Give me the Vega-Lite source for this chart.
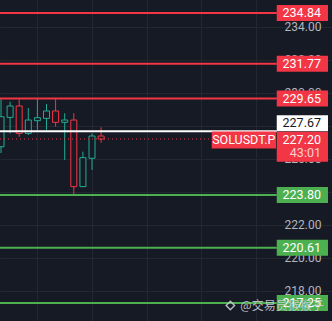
{
  "$schema": "https://vega.github.io/schema/vega-lite/v6.json",
  "width": 332,
  "height": 321,
  "autosize": "none",
  "padding": 0,
  "background": "#161a25",
  "config": {"view": {"stroke": null}, "font": "Roboto"},
  "datasets": {
    "candles": [
      {"i": 0, "open": 226.73, "high": 229.61, "low": 226.35, "close": 228.55},
      {"i": 1, "open": 228.51, "high": 229.46, "low": 227.54, "close": 229.20},
      {"i": 2, "open": 229.20, "high": 229.61, "low": 227.34, "close": 227.54},
      {"i": 3, "open": 227.54, "high": 229.08, "low": 227.44, "close": 228.35},
      {"i": 4, "open": 228.31, "high": 229.66, "low": 227.75, "close": 228.49},
      {"i": 5, "open": 228.45, "high": 229.32, "low": 227.75, "close": 228.90},
      {"i": 6, "open": 228.90, "high": 229.61, "low": 227.95, "close": 228.21},
      {"i": 7, "open": 228.21, "high": 228.76, "low": 225.93, "close": 228.35},
      {"i": 8, "open": 228.35, "high": 228.76, "low": 223.80, "close": 224.31},
      {"i": 9, "open": 224.31, "high": 226.43, "low": 224.29, "close": 226.07},
      {"i": 10, "open": 226.03, "high": 227.54, "low": 225.32, "close": 227.38},
      {"i": 11, "open": 227.38, "high": 227.91, "low": 226.97, "close": 227.20}
    ],
    "levels": [
      {"price": 234.84, "side": "resistance"},
      {"price": 231.77, "side": "resistance"},
      {"price": 229.65, "side": "resistance"},
      {"price": 223.80, "side": "support"},
      {"price": 220.61, "side": "support"},
      {"price": 217.25, "side": "support"}
    ],
    "current": [
      {"price": 227.20, "symbol": "SOLUSDT.P", "countdown": "43:01"}
    ],
    "marker": [
      {"price": 227.67}
    ],
    "watermark": [
      {"text": "@交易员猴猴子"}
    ]
  },
  "layer": [
    {
      "data": {"name": "candles"},
      "mark": {"type": "rule", "strokeWidth": 1},
      "encoding": {
        "x": {
          "field": "i", "type": "quantitative",
          "scale": {"domain": [-0.11, 36.37], "nice": false, "zero": false, "padding": 0},
          "axis": {"orient": "bottom", "values": [4, 10, 16, 22, 28], "grid": true, "gridColor": "#232731", "labels": false, "ticks": false, "domain": false, "title": null}
        },
        "y": {
          "field": "low", "type": "quantitative",
          "scale": {"domain": [216.16, 235.63], "nice": false, "zero": false, "padding": 0},
          "axis": {"orient": "right", "values": [216, 218, 220, 222, 224, 226, 228, 230, 232, 234], "format": ".2f", "grid": true, "gridColor": "#232731", "ticks": false, "domain": false, "title": null, "labelPadding": -11, "labelAlign": "right", "labelBaseline": "middle", "labelColor": "#b2b5be", "labelFontSize": 12, "labelFont": "Roboto", "labelOverlap": false, "labelBound": false, "labelFlush": false}
        },
        "y2": {"field": "high"},
        "color": {"condition": {"test": "datum.close >= datum.open", "value": "#22ab94"}, "value": "#f23645"}
      }
    },
    {
      "data": {"name": "candles"},
      "mark": {"type": "bar", "size": 6, "fill": "#161a25", "strokeWidth": 1},
      "encoding": {
        "x": {"field": "i", "type": "quantitative"},
        "y": {"field": "open", "type": "quantitative"},
        "y2": {"field": "close"},
        "stroke": {"condition": {"test": "datum.close >= datum.open", "value": "#22ab94"}, "value": "#f23645"}
      }
    },
    {
      "data": {"name": "current"},
      "mark": {"type": "rule", "strokeWidth": 1, "strokeDash": [1, 3], "color": "#f23645"},
      "encoding": {
        "x": {"datum": -0.11, "type": "quantitative"},
        "x2": {"datum": 23.15},
        "y": {"field": "price", "type": "quantitative"}
      }
    },
    {
      "data": {"name": "levels"},
      "mark": {"type": "rule", "strokeWidth": 2},
      "encoding": {
        "x": {"datum": -0.11, "type": "quantitative"},
        "x2": {"datum": 30.3},
        "y": {"field": "price", "type": "quantitative"},
        "color": {"field": "side", "type": "nominal", "scale": {"domain": ["resistance", "support"], "range": ["#f23645", "#4caf50"]}, "legend": null}
      }
    },
    {
      "data": {"name": "marker"},
      "mark": {"type": "rule", "strokeWidth": 2, "color": "#ffffff"},
      "encoding": {
        "x": {"datum": -0.11, "type": "quantitative"},
        "x2": {"datum": 30.3},
        "y": {"field": "price", "type": "quantitative"}
      }
    },
    {
      "data": {"name": "levels"},
      "mark": {"type": "bar", "size": 16, "orient": "horizontal"},
      "encoding": {
        "x": {"datum": 30.3, "type": "quantitative"},
        "x2": {"datum": 35.93},
        "y": {"field": "price", "type": "quantitative"},
        "color": {"field": "side", "type": "nominal", "legend": null}
      }
    },
    {
      "data": {"name": "levels"},
      "mark": {"type": "text", "align": "right", "baseline": "middle", "fontSize": 12.5, "color": "#ffffff", "font": "Roboto"},
      "encoding": {
        "x": {"datum": 35.16, "type": "quantitative"},
        "y": {"field": "price", "type": "quantitative"},
        "text": {"field": "price", "type": "quantitative", "format": ".2f"}
      }
    },
    {
      "data": {"name": "marker"},
      "mark": {"type": "bar", "size": 16, "orient": "horizontal", "yOffset": -8, "color": "#ffffff"},
      "encoding": {
        "x": {"datum": 30.3, "type": "quantitative"},
        "x2": {"datum": 35.93},
        "y": {"field": "price", "type": "quantitative"}
      }
    },
    {
      "data": {"name": "marker"},
      "mark": {"type": "text", "align": "right", "baseline": "middle", "fontSize": 12.5, "color": "#131722", "yOffset": -8, "font": "Roboto"},
      "encoding": {
        "x": {"datum": 35.16, "type": "quantitative"},
        "y": {"field": "price", "type": "quantitative"},
        "text": {"field": "price", "type": "quantitative", "format": ".2f"}
      }
    },
    {
      "data": {"name": "current"},
      "mark": {"type": "bar", "size": 30, "orient": "horizontal", "yOffset": 7.7, "color": "#f23645"},
      "encoding": {
        "x": {"datum": 30.3, "type": "quantitative"},
        "x2": {"datum": 35.93},
        "y": {"field": "price", "type": "quantitative"}
      }
    },
    {
      "data": {"name": "current"},
      "mark": {"type": "bar", "size": 17, "orient": "horizontal", "yOffset": 1, "color": "#f23645"},
      "encoding": {
        "x": {"datum": 23.15, "type": "quantitative"},
        "x2": {"datum": 30.22},
        "y": {"field": "price", "type": "quantitative"}
      }
    },
    {
      "data": {"name": "current"},
      "mark": {"type": "text", "align": "right", "baseline": "middle", "fontSize": 12.5, "color": "#ffffff", "yOffset": 1, "font": "Roboto"},
      "encoding": {
        "x": {"datum": 35.16, "type": "quantitative"},
        "y": {"field": "price", "type": "quantitative"},
        "text": {"field": "price", "type": "quantitative", "format": ".2f"}
      }
    },
    {
      "data": {"name": "current"},
      "mark": {"type": "text", "align": "right", "baseline": "middle", "fontSize": 12.5, "color": "#ffffff", "opacity": 0.75, "yOffset": 14.5, "font": "Roboto"},
      "encoding": {
        "x": {"datum": 35.16, "type": "quantitative"},
        "y": {"field": "price", "type": "quantitative"},
        "text": {"field": "countdown"}
      }
    },
    {
      "data": {"name": "current"},
      "mark": {"type": "text", "align": "center", "baseline": "middle", "fontSize": 12.5, "color": "#ffffff", "yOffset": 1, "font": "Roboto"},
      "encoding": {
        "x": {"datum": 26.68, "type": "quantitative"},
        "y": {"field": "price", "type": "quantitative"},
        "text": {"field": "symbol"}
      }
    },
    {
      "data": {"name": "watermark"},
      "mark": {"type": "point", "shape": "diamond", "size": 70, "filled": false, "strokeWidth": 1.5, "color": "#d1d4dc", "opacity": 0.85},
      "encoding": {
        "x": {"datum": 25.2, "type": "quantitative"},
        "y": {"datum": 217.1, "type": "quantitative"}
      }
    },
    {
      "data": {"name": "watermark"},
      "mark": {"type": "text", "align": "left", "baseline": "middle", "fontSize": 12, "color": "#d1d4dc", "opacity": 0.85, "font": "Noto Sans CJK SC"},
      "encoding": {
        "x": {"datum": 26.3, "type": "quantitative"},
        "y": {"datum": 217.1, "type": "quantitative"},
        "text": {"field": "text"}
      }
    }
  ]
}
